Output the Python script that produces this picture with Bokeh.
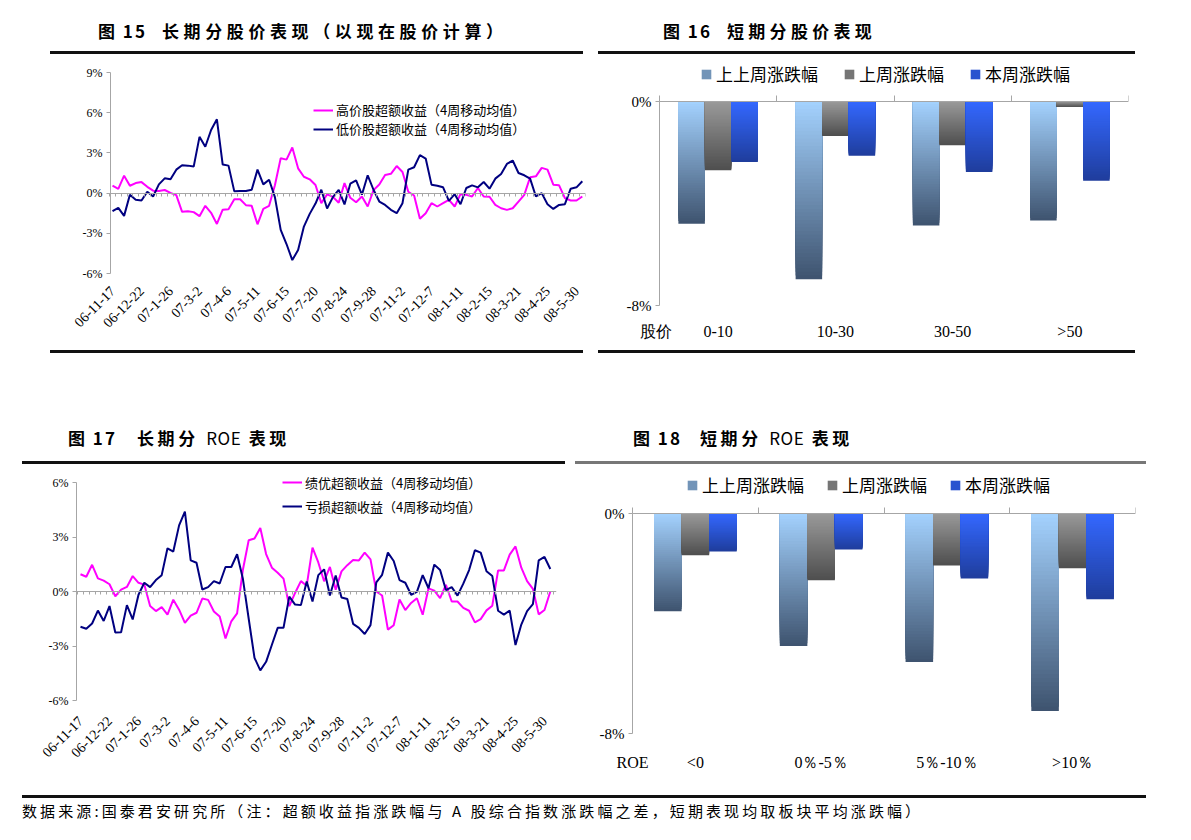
import math
from bokeh.plotting import figure
from bokeh.layouts import column, row
from bokeh.models import Div, Legend, LegendItem, LinearAxis, FixedTicker, Range1d
from bokeh.embed import file_html
from bokeh.resources import INLINE

# ---------------- data ----------------
# weekly points, 2006-11-17 ... 2008-06-06 (4-week moving average excess return, %)
week_ticks = list(range(0, 81, 5))
week_labels = ["06-11-17", "06-12-22", "07-1-26", "07-3-2", "07-4-6", "07-5-11",
               "07-6-15", "07-7-20", "07-8-24", "07-9-28", "07-11-2", "07-12-7",
               "08-1-11", "08-2-15", "08-3-21", "08-4-25", "08-5-30"]

high_price = [0.55, 0.32, 1.30, 0.55, 0.75, 0.82, 0.47, 0.18, 0.15, 0.23,
              0.02, -0.15, -1.40, -1.35, -1.42, -1.72, -0.95, -1.47, -2.30, -1.24,
              -1.20, -0.46, -0.46, -0.90, -0.95, -2.33, -1.17, -0.95, 0.58, 2.60,
              2.50, 3.40, 1.85, 1.22, 1.03, 0.60, -0.75, -0.10, -0.28, -0.72,
              0.75, -0.35, -0.68, -0.25, -1.00, 0.22, 0.64, 1.35, 1.44, 2.02,
              1.58, 0.10, -0.18, -1.92, -1.50, -0.75, -1.00, -0.75, -0.50, -1.00,
              -0.08, -0.13, -0.25, 0.38, -0.25, -0.27, -0.88, -1.13, -1.25, -1.13,
              -0.63, -0.13, 1.18, 1.25, 1.88, 1.75, 0.63, 0.58, -0.38, -0.55,
              -0.55, -0.25]
low_price = [-1.35, -1.10, -1.70, -0.13, -0.50, -0.55, 0.10, -0.25, 0.65, 1.10,
             1.03, 1.75, 2.08, 2.05, 1.98, 4.20, 3.46, 4.71, 5.51, 2.13,
             2.05, 0.13, 0.15, 0.15, 0.25, 1.75, 0.65, 1.00, -0.30, -2.75,
             -3.80, -5.00, -4.25, -2.50, -1.55, -0.78, 0.25, -1.15, -0.30, 0.25,
             -0.85, 0.70, 0.95, -0.12, 1.33, 0.25, -0.63, -0.88, -1.25, -1.50,
             -0.75, 1.75, 1.93, 2.83, 2.58, 0.63, 0.55, 0.43, -0.58, -0.08,
             -0.83, 0.38, 0.58, 0.43, 0.83, 0.33, 1.08, 1.43, 2.18, 2.43,
             1.50, 1.33, 1.08, -0.25, 0.00, -0.83, -1.18, -0.88, -0.83, 0.33,
             0.43, 0.88]
good_roe = [0.95, 0.81, 1.47, 0.72, 0.60, 0.40, -0.26, 0.10, 0.25, 0.85,
            0.48, 0.38, -0.80, -1.08, -0.86, -1.27, -0.45, -1.00, -1.73, -1.33,
            -1.17, -0.39, -0.46, -1.10, -1.38, -2.59, -1.64, -1.20, 1.20, 2.82,
            2.92, 3.50, 2.06, 1.31, 1.03, 0.71, -0.81, -0.08, 0.57, 0.32,
            2.41, 1.60, 0.56, 1.35, 0.10, 1.11, 1.45, 1.74, 1.71, 2.14,
            1.77, 0.00, -0.22, -2.10, -1.86, -0.44, -1.02, -0.63, -0.37, -1.28,
            0.17, 0.05, -0.37, 0.37, -0.55, -0.55, -0.90, -1.06, -1.70, -1.52,
            -1.04, -0.78, 1.16, 1.16, 2.03, 2.48, 1.31, 0.57, 0.15, -1.26,
            -1.02, 0.00]
loss_roe = [-1.94, -2.05, -1.76, -1.05, -1.62, -0.80, -2.26, -2.24, -0.75, -1.54,
            -0.18, 0.48, 0.24, 0.63, 0.90, 2.38, 2.20, 3.64, 4.40, 1.71,
            1.58, 0.11, 0.24, 0.57, 0.44, 1.35, 1.35, 2.05, 0.70, -1.50,
            -3.65, -4.34, -3.87, -2.93, -2.00, -2.00, -0.28, -0.72, -0.75, 0.55,
            -0.55, 0.90, 1.22, -0.22, 0.88, -0.33, -0.41, -1.78, -2.00, -2.34,
            -1.85, 0.50, 0.92, 2.14, 1.68, 0.63, 0.48, -0.18, -0.02, 0.90,
            0.18, 1.48, 1.18, 0.08, 0.24, -0.23, 0.43, 1.18, 2.27, 2.14,
            1.12, 0.85, -1.06, -1.27, -1.05, -2.95, -1.82, -1.08, -0.70, 1.71,
            1.90, 1.24]

series_names = ["上上周涨跌幅", "上周涨跌幅", "本周涨跌幅"]
price_axis_name = "股价"
price_groups = ["0-10", "10-30", "30-50", ">50"]
price_prev2 = [-4.79, -6.97, -4.86, -4.67]
price_prev1 = [-2.70, -1.35, -1.72, -0.22]
price_this = [-2.37, -2.13, -2.76, -3.11]
roe_axis_name = "ROE"
roe_groups = ["<0", "0％-5％", "5％-10％", ">10％"]
roe_prev2 = [-3.55, -4.82, -5.40, -7.18]
roe_prev1 = [-1.52, -2.43, -1.89, -1.99]
roe_this = [-1.38, -1.31, -2.36, -3.12]

price_ticks = [-6, -3, 0, 3, 6, 9]
roe_line_ticks = [-6, -3, 0, 3, 6]
bar_ticks = [-8, 0]

# ---------------- style ----------------
SERIF = "Liberation Serif"
CJK = "Noto Sans CJK SC"
GREY = "#A6A6A6"
PINK = "#FF00FF"
NAVY = "#000080"
BAR_TOP = ["#A4D2FF", "#9A9A9A", "#3468FF"]
BAR_BOT = ["#3E536E", "#4E4E4E", "#1F3D9C"]


def mix(c1, c2, t):
    a = [int(c1[i:i + 2], 16) for i in (1, 3, 5)]
    b = [int(c2[i:i + 2], 16) for i in (1, 3, 5)]
    return "#%02x%02x%02x" % tuple(round(a[j] + (b[j] - a[j]) * t) for j in range(3))


def pct(ticks):
    return {t: f"{t}%" for t in ticks}


def fit_range(f0, f1, v0, p0, v1, p1):
    """Range whose value v0 sits at pixel p0 and v1 at p1, for a frame spanning f0..f1."""
    k = (p1 - p0) / (v1 - v0)
    return (v0 + (f0 - p0) / k, v0 + (f1 - p0) / k)


def base_fig(w, h, left, right, xr, yr):
    # the frame fills almost the whole figure; every axis is pinned with
    # fixed_location so that it draws inside the frame
    p = figure(width=w, height=h, x_range=Range1d(*xr), y_range=Range1d(*yr),
               output_backend="svg", toolbar_location=None,
               min_border_left=left, min_border_right=w - right,
               min_border_top=0, min_border_bottom=0)
    p.outline_line_color = None
    p.grid.visible = False
    p.background_fill_color = "white"
    p.border_fill_color = "white"
    return p


def style_yaxis(p, ticks, size, at):
    ya = p.yaxis[0]
    ya.fixed_location = at
    ya.ticker = FixedTicker(ticks=ticks)
    ya.major_label_overrides = pct(ticks)
    ya.bounds = (ticks[0], ticks[-1])
    ya.axis_line_color = GREY
    ya.major_tick_line_color = GREY
    ya.major_tick_in = 0
    ya.major_tick_out = 4
    ya.minor_tick_line_color = None
    ya.major_label_standoff = 4
    ya.major_label_text_font = SERIF
    ya.major_label_text_font_size = size
    ya.major_label_text_color = "#000000"
    return ya


def tick_axis(ticks, out, bounds):
    return LinearAxis(fixed_location=0, ticker=FixedTicker(ticks=ticks), bounds=bounds,
                      axis_line_color=GREY, major_tick_line_color=GREY,
                      major_tick_in=0, major_tick_out=out, minor_tick_line_color=None,
                      major_label_text_color=None)


def line_panel(w, h, axis_px, right, first_px, step, ypx, yticks, series, legend_xy,
               label_h, gap, date_standoff):
    left = 8
    x0 = -(first_px - left) / step
    x1 = x0 + (right - left) / step
    x_axis = -(first_px - axis_px) / step
    yr = fit_range(h, 0, yticks[0], ypx[1], yticks[-1], ypx[0])
    p = base_fig(w, h, left, right, (x0, x1), yr)
    style_yaxis(p, yticks, "12px", x_axis)
    xa = p.xaxis[0]
    xa.fixed_location = yticks[0]
    xa.ticker = FixedTicker(ticks=week_ticks)
    xa.major_label_overrides = dict(zip(week_ticks, week_labels))
    xa.major_label_orientation = math.pi / 4
    xa.axis_line_color = None
    xa.major_tick_line_color = None
    xa.minor_tick_line_color = None
    xa.major_label_standoff = date_standoff
    xa.major_label_text_font = SERIF
    xa.major_label_text_font_size = "14px"
    xa.major_label_text_color = "#000000"
    n = len(series[0][1])
    p.add_layout(tick_axis([i - 0.5 for i in range(n + 1)], 3, (x_axis, x1)), "below")
    items = []
    xs = list(range(n))
    for name, ys, color in series:
        r = p.line(xs, ys, line_color=color, line_width=2)
        items.append(LegendItem(label=name, renderers=[r]))
    lg = Legend(items=items, location=(legend_xy[0] - left, legend_xy[1]),
                orientation="vertical",
                label_text_font=CJK, label_text_font_size="13px", label_text_color="#000000",
                glyph_width=20, glyph_height=10, label_height=label_h, spacing=gap,
                label_standoff=3, padding=0, margin=0,
                border_line_color=None, background_fill_alpha=0)
    p.add_layout(lg)
    return p


def bar_panel(w, h, left, right, axis_px, ypx, groups, axis_name, name_pos, data, bw,
              legend_xy, legend_gap, label_standoff):
    ng = len(groups)
    cw = (right - axis_px) / ng
    xr = (-(axis_px - left) / cw, ng)
    yr = fit_range(h, 0, bar_ticks[0], ypx[1], bar_ticks[-1], ypx[0])
    p = base_fig(w, h, left, right, xr, yr)
    style_yaxis(p, bar_ticks, "15px", 0)
    xa = p.xaxis[0]
    xa.fixed_location = bar_ticks[0]
    centers = [g + 0.5 for g in range(ng)]
    xa.ticker = FixedTicker(ticks=[name_pos] + centers)
    xa.major_label_overrides = dict(zip([name_pos] + centers, [axis_name] + groups))
    xa.axis_line_color = None
    xa.major_tick_line_color = None
    xa.major_tick_out = 0
    xa.minor_tick_line_color = None
    xa.major_label_standoff = label_standoff
    xa.major_label_text_font = SERIF
    xa.major_label_text_font_size = "16px"
    xa.major_label_text_color = "#000000"
    p.add_layout(tick_axis(list(range(ng + 1)), 6, (0, ng)), "above")

    K = 48
    offsets = [-bw, 0.0, bw]
    items = []
    for s, name in enumerate(series_names):
        vals = data[s]
        L, R, B, C = [], [], [], []
        # nested bars, each shorter one lighter: a top-to-bottom gradient
        for k in range(K):
            frac = (K - k) / K
            shade = mix(BAR_TOP[s], BAR_BOT[s], (K - k - 0.5) / K)
            for g, v in enumerate(vals):
                c = centers[g] + offsets[s]
                L.append(c - bw / 2)
                R.append(c + bw / 2)
                B.append(v * frac)
                C.append(shade)
        r = p.quad(left=L, right=R, top=0, bottom=B, fill_color=C, line_color=None)
        items.append(LegendItem(label=name, renderers=[r], index=(K // 2) * ng))
    lg = Legend(items=items, location=legend_xy, orientation="horizontal",
                label_text_font=CJK, label_text_font_size="17px", label_text_color="#000000",
                glyph_width=12, glyph_height=12, label_height=20, label_standoff=4,
                spacing=legend_gap, padding=0, margin=0,
                border_line_color=None, background_fill_alpha=0)
    p.add_layout(lg)
    return p


def deco(width, height, texts, rules):
    parts = []
    for x, y, txt, size, weight, ls in texts:
        parts.append(
            f'<div style="position:absolute;left:{x}px;top:{y}px;font-family:\'{CJK}\';'
            f'font-size:{size}px;font-weight:{weight};letter-spacing:{ls}px;'
            f'white-space:pre;line-height:1;color:#000">{txt}</div>')
    for x, y, w, t, color in rules:
        parts.append(
            f'<div style="position:absolute;left:{x}px;top:{y}px;width:{w}px;'
            f'height:{t}px;background:{color}"></div>')
    html = (f'<div style="position:relative;width:{width}px;height:{height}px;'
            f'background:white;overflow:hidden">' + "".join(parts) + '</div>')
    return Div(text=html, width=width, height=height, margin=(0, 0, 0, 0))


# ---------------- panels ----------------
fig15 = line_panel(590, 294, 110, 585, 112, 5.8, (16, 217), price_ticks,
                   [("高价股超额收益（4周移动均值）", high_price, PINK),
                    ("低价股超额收益（4周移动均值）", low_price, NAVY)],
                   (203 + 110, 212), 16, 0, 9)
fig16 = bar_panel(601, 294, 20, 538, 69, (45, 249), price_groups,
                  price_axis_name, -0.034, [price_prev2, price_prev1, price_this],
                  0.226, (90, 264), 25, 17)
fig17 = line_panel(575, 322, 76, 556, 80, 5.8, (18, 236), roe_line_ticks,
                   [("绩优超额收益（4周移动均值）", good_roe, PINK),
                    ("亏损超额收益（4周移动均值）", loss_roe, NAVY)],
                   (206 + 76, 270), 20, 4, 12)
fig18 = bar_panel(616, 322, 15, 560, 57, (49, 269), roe_groups,
                  roe_axis_name, 0.0, [roe_prev2, roe_prev1, roe_this],
                  0.219, (96, 289), 22, 20)

ROE_SPAN = '<span style="letter-spacing:0.5px;font-weight:normal">ROE</span>'
head = deco(1191, 56,
            [(98, 22, "图 15", 17, "bold", 2),
             (162, 22, "长期分股价表现（以现在股价计算）", 17, "bold", 4.6),
             (663, 22, "图 16", 17, "bold", 2),
             (727, 22, "短期分股价表现", 17, "bold", 4.3)],
            [(50, 51, 533, 3, "#111111"), (598, 51, 537, 3, "#111111")])
mid = deco(1191, 114,
           [(68, 79, "图 17", 17, "bold", 2),
            (137, 79, f"长期分 {ROE_SPAN} 表现", 17, "bold", 3.6),
            (633, 79, "图 18", 17, "bold", 2),
            (700, 79, f"短期分 {ROE_SPAN} 表现", 17, "bold", 3.6)],
           [(50, 0, 533, 3, "#111111"), (598, 0, 537, 3, "#111111"),
            (22, 111, 543, 3, "#111111"), (575, 111, 571, 3, "#777777")])
foot = deco(1191, 54,
            [(22, 17, "数据来源:国泰君安研究所（注：超额收益指涨跌幅与 A 股综合指数涨跌幅之差，短期表现均取板块平均涨跌幅）",
              15, "normal", 3.1)],
            [(22, 9, 1124, 3, "#111111")])

page = column(head, row(fig15, fig16), mid, row(fig17, fig18), foot)

open("out.html", "w").write(file_html(page, INLINE))
